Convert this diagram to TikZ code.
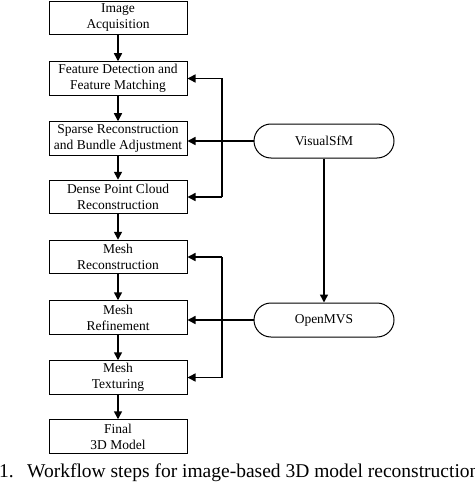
\documentclass[tikz,border=0pt]{standalone}
\usepackage{fontspec}
\setmainfont{Liberation Serif}
\usetikzlibrary{arrows.meta}
\begin{document}
\begin{tikzpicture}[x=1pt,y=-1pt,
  stepbox/.style={draw=black,line width=1pt,minimum width=138pt,minimum height=33.5pt,
    inner sep=0pt,align=center,font=\fontsize{13.5}{16}\selectfont},
  tool/.style={draw=black,line width=1pt,minimum width=140pt,minimum height=34pt,
    rounded corners=17pt,inner sep=0pt,font=\fontsize{13.5}{16}\selectfont},
  arr/.style={line width=1.5pt,-{Triangle[length=8pt,width=8pt]}},
  ln/.style={line width=1.5pt}]
\useasboundingbox (0,0) rectangle (474,484);
\clip (0,0) rectangle (474,484);
\node[stepbox] (b1) at (118,18) {Image\\Acquisition};
\node[stepbox] (b2) at (118,78.5) {Feature Detection and\\Feature Matching};
\node[stepbox] (b3) at (118,138.5) {Sparse Reconstruction\\and Bundle Adjustment};
\node[stepbox] (b4) at (118,197) {Dense Point Cloud\\Reconstruction};
\node[stepbox] (b5) at (118,257) {Mesh\\Reconstruction};
\node[stepbox] (b6) at (118,317.5) {Mesh\\Refinement};
\node[stepbox] (b7) at (118,377.5) {Mesh\\Texturing};
\node[stepbox] (b8) at (118,436.5) {Final\\3D Model};
\node[tool] (v) at (324,141) {VisualSfM};
\node[tool] (o) at (324,320) {OpenMVS};
\foreach \a/\b in {b1/b2,b2/b3,b3/b4,b4/b5,b5/b6,b6/b7,b7/b8}
  \draw[arr] (\a.south) -- (\b.north);
\coordinate (k) at (222,0);
\draw[ln] (k |- b2.east) -- (k |- b4.east);
\draw[arr] (k |- b2.east) -- (b2.east);
\draw[arr] (k |- b4.east) -- (b4.east);
\draw[arr] (v.west) -- (b3.east |- v.west);
\draw[ln] (k |- b5.east) -- (k |- b7.east);
\draw[arr] (k |- b5.east) -- (b5.east);
\draw[arr] (k |- b7.east) -- (b7.east);
\draw[arr] (o.west) -- (b6.east |- o.west);
\draw[arr] (v.south) -- (o.north);
\node[anchor=base east,inner sep=0pt,font=\fontsize{19.5}{23}\selectfont] (n) at (14,477) {1.};
\node[anchor=base west,inner sep=0pt,font=\fontsize{19.5}{23}\selectfont] (cap) at (27,477) {Workflow steps for image-based 3D model reconstruction};
\end{tikzpicture}
\end{document}
